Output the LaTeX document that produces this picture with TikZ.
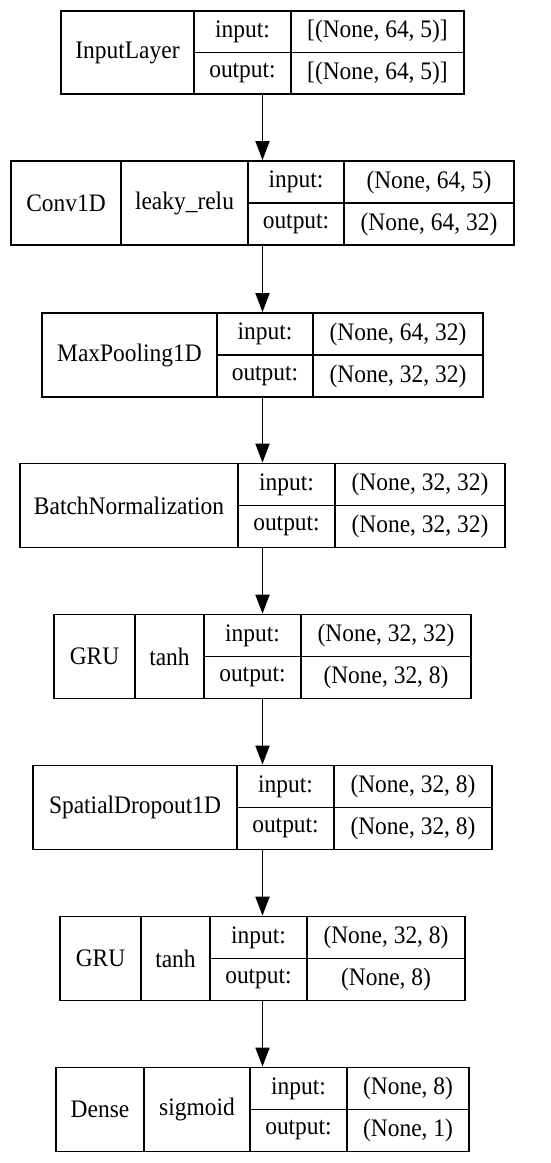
\documentclass[tikz,border=0pt]{standalone}
\usepackage{fontspec}
\setmainfont{Liberation Serif}[FakeStretch=0.93]
\usepackage{tikz}
\usetikzlibrary{arrows.meta}

\begin{document}
\begin{tikzpicture}[x=1pt, y=-1pt, >={Triangle[length=19pt, width=14pt]},
                    layer/.style={draw, line width=1.8pt, inner sep=0pt, minimum width=#1},
                    cell/.style={draw, line width=1.8pt, inner sep=0pt, font=\fontsize{25.2}{29}\selectfont}]
                      \useasboundingbox (0,0) rectangle (550,1163);

                      % InputLayer
                      \node[layer=403, minimum height=83] (inputlayer) at (262.5,52.5) {};
                      \node[cell, minimum width=133, minimum height=83] (inName) at (127.5,52.5) {InputLayer};
                      \node[cell, minimum width=97, minimum height=41.5] (inI) at (242.5,31.75) {input:};
                      \node[cell, minimum width=97, minimum height=41.5] (inO) at (242.5,73.25) {output:};
                      \node[cell, minimum width=173, minimum height=41.5] (inIV) at (377.5,31.75) {[(None, 64, 5)]};
                      \node[cell, minimum width=173, minimum height=41.5] (inOV) at (377.5,73.25) {[(None, 64, 5)]};

                      % Conv1D
                      \node[layer=503, minimum height=84] (conv) at (262.5,203) {};
                      \node[cell, minimum width=110, minimum height=84] (convName) at (66,203) {Conv1D};
                      \node[cell, minimum width=127, minimum height=84] (convAct) at (184.5,203) {leaky\_relu};
                      \node[cell, minimum width=96, minimum height=42] (convI) at (296,182) {input:};
                      \node[cell, minimum width=96, minimum height=42] (convO) at (296,224) {output:};
                      \node[cell, minimum width=170, minimum height=42] (convIV) at (429,182) {(None, 64, 5)};
                      \node[cell, minimum width=170, minimum height=42] (convOV) at (429,224) {(None, 64, 32)};

                      % MaxPooling1D
                      \node[layer=441, minimum height=84] (pool) at (262.5,355) {};
                      \node[cell, minimum width=175, minimum height=84] (poolName) at (129.5,355) {MaxPooling1D};
                      \node[cell, minimum width=96, minimum height=42] (poolI) at (265,334) {input:};
                      \node[cell, minimum width=96, minimum height=42] (poolO) at (265,376) {output:};
                      \node[cell, minimum width=170, minimum height=42] (poolIV) at (398,334) {(None, 64, 32)};
                      \node[cell, minimum width=170, minimum height=42] (poolOV) at (398,376) {(None, 32, 32)};

                      % BatchNormalization
                      \node[layer=485, minimum height=84] (norm) at (262.5,505.5) {};
                      \node[cell, minimum width=218, minimum height=84] (normName) at (129,505.5) {BatchNormalization};
                      \node[cell, minimum width=97, minimum height=42] (normI) at (286.5,484.5) {input:};
                      \node[cell, minimum width=97, minimum height=42] (normO) at (286.5,526.5) {output:};
                      \node[cell, minimum width=170, minimum height=42] (normIV) at (420,484.5) {(None, 32, 32)};
                      \node[cell, minimum width=170, minimum height=42] (normOV) at (420,526.5) {(None, 32, 32)};

                      % GRU 1
                      \node[layer=417, minimum height=84] (gruA) at (262.5,656.5) {};
                      \node[cell, minimum width=81, minimum height=84] (gruAName) at (94.5,656.5) {GRU};
                      \node[cell, minimum width=69, minimum height=84] (gruAAct) at (169.5,656.5) {tanh};
                      \node[cell, minimum width=97, minimum height=42] (gruAI) at (252.5,635.5) {input:};
                      \node[cell, minimum width=97, minimum height=42] (gruAO) at (252.5,677.5) {output:};
                      \node[cell, minimum width=170, minimum height=42] (gruAIV) at (386,635.5) {(None, 32, 32)};
                      \node[cell, minimum width=170, minimum height=42] (gruAOV) at (386,677.5) {(None, 32, 8)};

                      % SpatialDropout1D
                      \node[layer=459, minimum height=84] (drop) at (262.5,807.5) {};
                      \node[cell, minimum width=204, minimum height=84] (dropName) at (135,807.5) {SpatialDropout1D};
                      \node[cell, minimum width=97, minimum height=42] (dropI) at (285.5,786.5) {input:};
                      \node[cell, minimum width=97, minimum height=42] (dropO) at (285.5,828.5) {output:};
                      \node[cell, minimum width=158, minimum height=42] (dropIV) at (413,786.5) {(None, 32, 8)};
                      \node[cell, minimum width=158, minimum height=42] (dropOV) at (413,828.5) {(None, 32, 8)};

                      % GRU 2
                      \node[layer=405, minimum height=84] (gruB) at (262.5,958.5) {};
                      \node[cell, minimum width=81, minimum height=84] (gruBName) at (100.5,958.5) {GRU};
                      \node[cell, minimum width=69, minimum height=84] (gruBAct) at (175.5,958.5) {tanh};
                      \node[cell, minimum width=97, minimum height=42] (gruBI) at (258.5,937.5) {input:};
                      \node[cell, minimum width=97, minimum height=42] (gruBO) at (258.5,979.5) {output:};
                      \node[cell, minimum width=158, minimum height=42] (gruBIV) at (386,937.5) {(None, 32, 8)};
                      \node[cell, minimum width=158, minimum height=42] (gruBOV) at (386,979.5) {(None, 8)};

                      % Dense
                      \node[layer=413, minimum height=84] (dense) at (262.5,1109.5) {};
                      \node[cell, minimum width=88, minimum height=84] (denseName) at (100,1109.5) {Dense};
                      \node[cell, minimum width=106, minimum height=84] (denseAct) at (197,1109.5) {sigmoid};
                      \node[cell, minimum width=97, minimum height=42] (denseI) at (298.5,1088.5) {input:};
                      \node[cell, minimum width=97, minimum height=42] (denseO) at (298.5,1130.5) {output:};
                      \node[cell, minimum width=122, minimum height=42] (denseIV) at (408,1088.5) {(None, 8)};
                      \node[cell, minimum width=122, minimum height=42] (denseOV) at (408,1130.5) {(None, 1)};

                      \draw[->, line width=1.8pt] (inputlayer) -- (conv);
                      \draw[->, line width=1.8pt] (conv) -- (pool);
                      \draw[->, line width=1.8pt] (pool) -- (norm);
                      \draw[->, line width=1.8pt] (norm) -- (gruA);
                      \draw[->, line width=1.8pt] (gruA) -- (drop);
                      \draw[->, line width=1.8pt] (drop) -- (gruB);
                      \draw[->, line width=1.8pt] (gruB) -- (dense);

                    \end{tikzpicture}
\end{document}
